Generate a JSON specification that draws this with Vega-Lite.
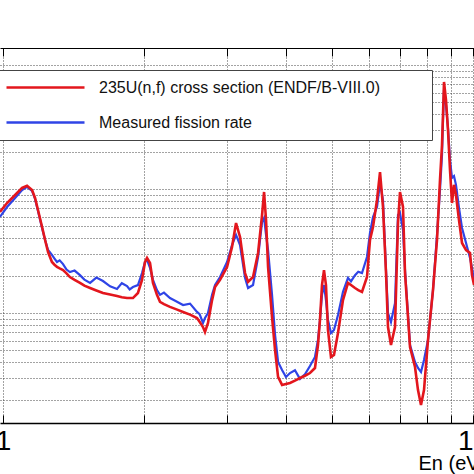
{
  "$schema": "https://vega.github.io/schema/vega-lite/v6.json",
  "width": 474,
  "height": 375,
  "autosize": "none",
  "padding": {"left": 0, "top": 48, "right": 0, "bottom": 51},
  "background": "white",
  "data": {
    "values": [
      {"E": 0.985, "endf": 65.2, "meas": 59.5},
      {"E": 1.020, "endf": 77.1, "meas": 71.6},
      {"E": 1.061, "endf": 89.4, "meas": 84.6},
      {"E": 1.098, "endf": 102, "meas": 98.2},
      {"E": 1.125, "endf": 106, "meas": 104},
      {"E": 1.153, "endf": 98.2, "meas": 96.4},
      {"E": 1.170, "endf": 84.6, "meas": 83.1},
      {"E": 1.187, "endf": 67.7, "meas": 66.5},
      {"E": 1.211, "endf": 49.4, "meas": 48.5},
      {"E": 1.229, "endf": 38.8, "meas": 38.8},
      {"E": 1.247, "endf": 31.0, "meas": 32.2},
      {"E": 1.271, "endf": 25.8, "meas": 29.4},
      {"E": 1.287, "endf": 24.5, "meas": 27.5},
      {"E": 1.303, "endf": 23.5, "meas": 25.8},
      {"E": 1.320, "endf": 22.9, "meas": 26.6},
      {"E": 1.342, "endf": 22.2, "meas": 24.8},
      {"E": 1.365, "endf": 20.9, "meas": 22.4},
      {"E": 1.388, "endf": 19.5, "meas": 21.4},
      {"E": 1.420, "endf": 18.5, "meas": 22.0},
      {"E": 1.458, "endf": 17.5, "meas": 20.2},
      {"E": 1.490, "endf": 16.6, "meas": 18.6},
      {"E": 1.532, "endf": 15.9, "meas": 17.5},
      {"E": 1.580, "endf": 15.2, "meas": 19.3},
      {"E": 1.632, "endf": 14.5, "meas": 18.1},
      {"E": 1.690, "endf": 14.1, "meas": 16.4},
      {"E": 1.748, "endf": 13.7, "meas": 15.6},
      {"E": 1.790, "endf": 13.4, "meas": 17.4},
      {"E": 1.836, "endf": 13.2, "meas": 16.5},
      {"E": 1.860, "endf": 13.2, "meas": 15.5},
      {"E": 1.890, "endf": 13.2, "meas": 16.2},
      {"E": 1.937, "endf": 14.5, "meas": 16.8},
      {"E": 1.976, "endf": 18.5, "meas": 21.0},
      {"E": 2.005, "endf": 25.8, "meas": 25.8},
      {"E": 2.025, "endf": 27.8, "meas": 26.8},
      {"E": 2.055, "endf": 25.3, "meas": 23.1},
      {"E": 2.085, "endf": 17.5, "meas": 18.5},
      {"E": 2.126, "endf": 14.0, "meas": 15.3},
      {"E": 2.158, "endf": 12.3, "meas": 14.0},
      {"E": 2.200, "endf": 11.8, "meas": 14.6},
      {"E": 2.266, "endf": 11.2, "meas": 13.2},
      {"E": 2.340, "endf": 10.7, "meas": 12.4},
      {"E": 2.416, "endf": 10.2, "meas": 11.6},
      {"E": 2.500, "endf": 9.7, "meas": 11.9},
      {"E": 2.587, "endf": 9.11, "meas": 10.2},
      {"E": 2.620, "endf": 8.5, "meas": 9.8},
      {"E": 2.664, "endf": 7.71, "meas": 8.31},
      {"E": 2.690, "endf": 7.03, "meas": 9.11},
      {"E": 2.730, "endf": 8.31, "meas": 10.0},
      {"E": 2.785, "endf": 12.7, "meas": 14.0},
      {"E": 2.826, "endf": 16.2, "meas": 16.8},
      {"E": 2.896, "endf": 18.5, "meas": 19.5},
      {"E": 2.997, "endf": 23.5, "meas": 25.8},
      {"E": 3.071, "endf": 34.1, "meas": 35.3},
      {"E": 3.132, "endf": 53.2, "meas": 42.6},
      {"E": 3.194, "endf": 41.0, "meas": 35.3},
      {"E": 3.273, "endf": 21.0, "meas": 19.2},
      {"E": 3.322, "endf": 17.8, "meas": 15.9},
      {"E": 3.404, "endf": 19.5, "meas": 16.8},
      {"E": 3.489, "endf": 30.5, "meas": 28.3},
      {"E": 3.558, "endf": 61.7, "meas": 54.2},
      {"E": 3.593, "endf": 94.6, "meas": 58.4},
      {"E": 3.628, "endf": 56.2, "meas": 42.6},
      {"E": 3.664, "endf": 23.5, "meas": 32.2},
      {"E": 3.736, "endf": 9.28, "meas": 14.0},
      {"E": 3.792, "endf": 5.03, "meas": 6.65},
      {"E": 3.848, "endf": 3.05, "meas": 4.03},
      {"E": 3.924, "endf": 2.63, "meas": 3.47},
      {"E": 4.000, "endf": 2.68, "meas": 3.05},
      {"E": 4.080, "endf": 2.73, "meas": 3.28},
      {"E": 4.180, "endf": 2.85, "meas": 3.45},
      {"E": 4.284, "endf": 2.99, "meas": 2.94},
      {"E": 4.390, "endf": 3.12, "meas": 3.20},
      {"E": 4.499, "endf": 3.28, "meas": 3.74},
      {"E": 4.611, "endf": 3.60, "meas": 4.42},
      {"E": 4.679, "endf": 5.52, "meas": 6.06},
      {"E": 4.725, "endf": 8.78, "meas": 8.78},
      {"E": 4.772, "endf": 16.8, "meas": 14.0},
      {"E": 4.819, "endf": 22.2, "meas": 16.8},
      {"E": 4.866, "endf": 16.8, "meas": 12.7},
      {"E": 4.914, "endf": 7.29, "meas": 8.78},
      {"E": 4.987, "endf": 4.42, "meas": 6.90},
      {"E": 5.061, "endf": 4.58, "meas": 7.29},
      {"E": 5.161, "endf": 6.90, "meas": 9.64},
      {"E": 5.289, "endf": 12.7, "meas": 14.8},
      {"E": 5.420, "endf": 17.5, "meas": 19.2},
      {"E": 5.500, "endf": 16.8, "meas": 18.0},
      {"E": 5.610, "endf": 15.9, "meas": 20.2},
      {"E": 5.700, "endf": 15.3, "meas": 21.5},
      {"E": 5.805, "endf": 14.8, "meas": 21.0},
      {"E": 5.949, "endf": 19.5, "meas": 28.3},
      {"E": 6.037, "endf": 38.8, "meas": 44.2},
      {"E": 6.127, "endf": 49.4, "meas": 59.5},
      {"E": 6.248, "endf": 81.5, "meas": 71.6},
      {"E": 6.341, "endf": 137, "meas": 112},
      {"E": 6.434, "endf": 71.6, "meas": 81.5},
      {"E": 6.530, "endf": 21.0, "meas": 22.2},
      {"E": 6.594, "endf": 7.71, "meas": 10.0},
      {"E": 6.691, "endf": 5.52, "meas": 8.46},
      {"E": 6.824, "endf": 7.71, "meas": 12.0},
      {"E": 6.925, "endf": 53.2, "meas": 61.7},
      {"E": 6.993, "endf": 94.6, "meas": 64.1},
      {"E": 7.097, "endf": 71.6, "meas": 46.7},
      {"E": 7.167, "endf": 21.0, "meas": 22.2},
      {"E": 7.345, "endf": 5.32, "meas": 5.52},
      {"E": 7.527, "endf": 3.67, "meas": 4.03},
      {"E": 7.638, "endf": 2.39, "meas": 3.60},
      {"E": 7.751, "endf": 1.81, "meas": 3.34},
      {"E": 7.866, "endf": 2.39, "meas": 4.18},
      {"E": 8.022, "endf": 6.06, "meas": 6.06},
      {"E": 8.220, "endf": 15.3, "meas": 15.3},
      {"E": 8.383, "endf": 38.8, "meas": 42.6},
      {"E": 8.507, "endf": 118, "meas": 98.2},
      {"E": 8.591, "endf": 226, "meas": 188},
      {"E": 8.633, "endf": 395, "meas": 360},
      {"E": 8.676, "endf": 729, "meas": 629},
      {"E": 8.761, "endf": 522, "meas": 476},
      {"E": 8.847, "endf": 299, "meas": 310},
      {"E": 8.935, "endf": 142, "meas": 171},
      {"E": 9.022, "endf": 77.1, "meas": 123},
      {"E": 9.111, "endf": 108, "meas": 127},
      {"E": 9.200, "endf": 89.4, "meas": 108},
      {"E": 9.337, "endf": 56.2, "meas": 70.3},
      {"E": 9.476, "endf": 36.7, "meas": 48.5},
      {"E": 9.665, "endf": 32.2, "meas": 36.7},
      {"E": 9.855, "endf": 30.5, "meas": 27.8},
      {"E": 9.951, "endf": 20.2, "meas": 23.1},
      {"E": 10.05, "endf": 16.8, "meas": 18.5}
    ]
  },
  "layer": [
    {
      "mark": {"type": "line", "strokeWidth": 2.2},
      "encoding": {
        "x": {
          "field": "E",
          "type": "quantitative",
          "scale": {"type": "log", "domain": [0.9854, 10.049], "nice": false},
          "axis": {
            "orient": "top",
            "title": null,
            "labels": false,
            "grid": false,
            "values": [1, 2, 3, 4, 5, 6, 7, 8, 9, 10],
            "tickSize": -8,
            "tickColor": "#000",
            "domainColor": "#000",
            "domainWidth": 1.2
          }
        },
        "y": {
          "field": "meas",
          "type": "quantitative",
          "scale": {"type": "log", "domain": [1.297, 1371], "nice": false},
          "axis": {
            "title": null,
            "labels": false,
            "ticks": false,
            "domain": false,
            "values": [2, 3, 4, 5, 6, 7, 8, 9, 10, 20, 30, 40, 50, 60, 70, 80, 90, 100, 200, 300, 400, 500, 600, 700, 800, 900, 1000]
          }
        },
        "color": {
          "datum": "Measured fission rate",
          "type": "nominal",
          "scale": {
            "domain": ["235U(n,f) cross section (ENDF/B-VIII.0)", "Measured fission rate"],
            "range": ["#e3161d", "#2f44e6"]
          },
          "legend": {
            "title": "\u00a0",
            "titleOrient": "right",
            "titlePadding": 45,
            "titleFontSize": 16,
            "orient": "none",
            "legendX": -20,
            "legendY": 22,
            "symbolType": "stroke",
            "symbolSize": 6084,
            "symbolStrokeWidth": 2.5,
            "clipHeight": 20,
            "rowPadding": 15,
            "padding": 7.5,
            "symbolOffset": 17.5,
            "labelOffset": 13,
            "labelFontSize": 16,
            "labelColor": "#111",
            "labelLimit": 0,
            "fillColor": "white",
            "strokeColor": "#444"
          }
        }
      }
    },
    {
      "mark": {"type": "line", "strokeWidth": 2.6},
      "encoding": {
        "x": {
          "field": "E",
          "type": "quantitative",
          "scale": {"type": "log", "domain": [0.9854, 10.049], "nice": false},
          "axis": {
            "orient": "bottom",
            "title": "En (eV)",
            "titleFontSize": 20,
            "titleFontWeight": "normal",
            "titleColor": "#000",
            "titleAlign": "left",
            "titleBaseline": "alphabetic",
            "titleAngle": 0,
            "titleX": 418,
            "titleY": 46,
            "values": [1, 2, 3, 4, 5, 6, 7, 8, 9, 10],
            "labelExpr": "datum.value == 1 || datum.value == 10 ? format(datum.value, 'd') : ''",
            "labelFontSize": 28,
            "labelColor": "#000",
            "labelFlush": false,
            "labelOverlap": false,
            "labelPadding": 12,
            "tickSize": -8,
            "tickColor": "#000",
            "domainColor": "#000",
            "domainWidth": 1.6,
            "grid": true
          }
        },
        "y": {
          "field": "endf",
          "type": "quantitative",
          "scale": {"type": "log", "domain": [1.297, 1371], "nice": false},
          "axis": {
            "title": null,
            "labels": false,
            "ticks": false,
            "domain": false,
            "values": [2, 3, 4, 5, 6, 7, 8, 9, 10, 20, 30, 40, 50, 60, 70, 80, 90, 100, 200, 300, 400, 500, 600, 700, 800, 900, 1000]
          }
        },
        "color": {
          "datum": "235U(n,f) cross section (ENDF/B-VIII.0)",
          "type": "nominal"
        }
      }
    }
  ],
  "resolve": {"axis": {"x": "independent"}},
  "config": {
    "view": {"stroke": null},
    "font": "Liberation Sans",
    "axis": {
      "gridColor": "#333",
      "gridDash": [1, 2],
      "gridOpacity": 0.9,
      "gridWidth": 1
    }
  }
}
